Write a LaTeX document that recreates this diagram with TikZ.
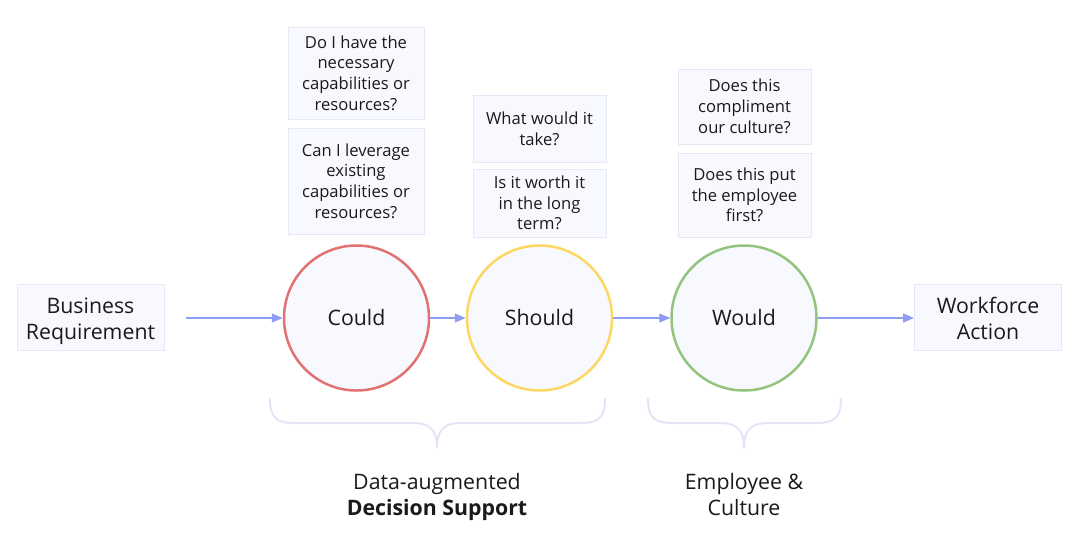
\documentclass[tikz,border=0pt]{standalone}
\usepackage{fontspec}
\setmainfont{Open Sans}
\usetikzlibrary{arrows.meta}
\definecolor{boxfill}{HTML}{F8F9FE}
\definecolor{boxline}{HTML}{E6E8F7}
\definecolor{arrowc}{HTML}{8E9CF5}
\definecolor{redc}{HTML}{E27272}
\definecolor{yellowc}{HTML}{FCD764}
\definecolor{greenc}{HTML}{93C47D}
\definecolor{bracec}{HTML}{E3E5F6}
\definecolor{textc}{HTML}{1A1A1A}
\newcommand{\topstrut}{\rule{0pt}{25pt}}
\tikzset{
  qbox/.style={draw=boxline, fill=boxfill, line width=1pt, align=center, inner sep=0pt,
    font=\fontsize{16.6}{20.7}\selectfont, text=textc},
  endbox/.style={draw=boxline, fill=boxfill, line width=1pt, align=center, inner sep=0pt,
    minimum width=147pt, minimum height=66pt, font=\fontsize{21.3}{26}\selectfont, text=textc},
  stage/.style={circle, fill=boxfill, line width=2.5pt, minimum size=145pt, inner sep=0pt,
    font=\fontsize{21.3}{26}\selectfont, text=textc},
  flow/.style={draw=arrowc, line width=1.2pt, -{Triangle[length=11pt,width=9pt]}},
  bracestyle/.style={draw=bracec, line width=2pt},
  grouplabel/.style={align=center, font=\fontsize{21.3}{26}\selectfont, text=textc}
}
\begin{document}
\begin{tikzpicture}[x=1pt,y=-1pt]
\useasboundingbox (0,0) rectangle (1078,542);

% end boxes
\node[endbox] (br) at (90.5,317.5) {\topstrut Business\\\strut Requirement};
\node[endbox] (wa) at (988,317.5) {\topstrut Workforce\\\strut Action};

% circles
\node[stage, draw=redc] (could) at (356.5,318) {Could};
\node[stage, draw=yellowc] (should) at (539.5,318) {Should};
\node[stage, draw=greenc] (would) at (744,318) {Would};

% question boxes
\node[qbox, minimum width=136pt, minimum height=92pt] (q1) at (356,73) {Do I have the\\necessary\\capabilities or\\resources?};
\node[qbox, minimum width=136pt, minimum height=106pt] (q2) at (356,181) {Can I leverage\\existing\\capabilities or\\resources?};
\node[qbox, minimum width=133pt, minimum height=67pt] (q3) at (539.5,128.5) {What would it\\take?};
\node[qbox, minimum width=133pt, minimum height=68pt] (q4) at (539.5,203) {Is it worth it\\in the long\\term?};
\node[qbox, minimum width=133pt, minimum height=75pt] (q5) at (744.5,106.5) {Does this\\compliment\\our culture?};
\node[qbox, minimum width=133pt, minimum height=84pt] (q6) at (744.5,195) {Does this put\\the employee\\first?};

% connectors
\coordinate (brout) at (186,318);
\draw[flow] (brout) -- (could.west);
\draw[flow] (could.east) -- (should.west);
\draw[flow] (should.east) -- (would.west);
\draw[flow] (would.east) -- (would.east -| wa.west);

% braces
\coordinate (b1l) at (270,398);
\coordinate (b1r) at (605,398);
\coordinate (b1c) at (437,448);
\draw[bracestyle] (b1l) .. controls (270,418) and (276,423) .. (296,423)
  -- (413,423) .. controls (430,423) and (437,430) .. (b1c);
\draw[bracestyle] (b1r) .. controls (605,418) and (599,423) .. (579,423)
  -- (461,423) .. controls (444,423) and (437,430) .. (b1c);

\coordinate (b2l) at (648,398);
\coordinate (b2r) at (841,398);
\coordinate (b2c) at (744,448);
\draw[bracestyle] (b2l) .. controls (648,418) and (654,423) .. (674,423)
  -- (720,423) .. controls (737,423) and (744,430) .. (b2c);
\draw[bracestyle] (b2r) .. controls (841,418) and (835,423) .. (815,423)
  -- (768,423) .. controls (751,423) and (744,430) .. (b2c);

% group labels
\node[grouplabel] (g1) at (437,497) {\strut Data-augmented\\\strut\textbf{Decision Support}};
\node[grouplabel] (g2) at (744,497) {\strut Employee \&\\\strut Culture};
\end{tikzpicture}
\end{document}
